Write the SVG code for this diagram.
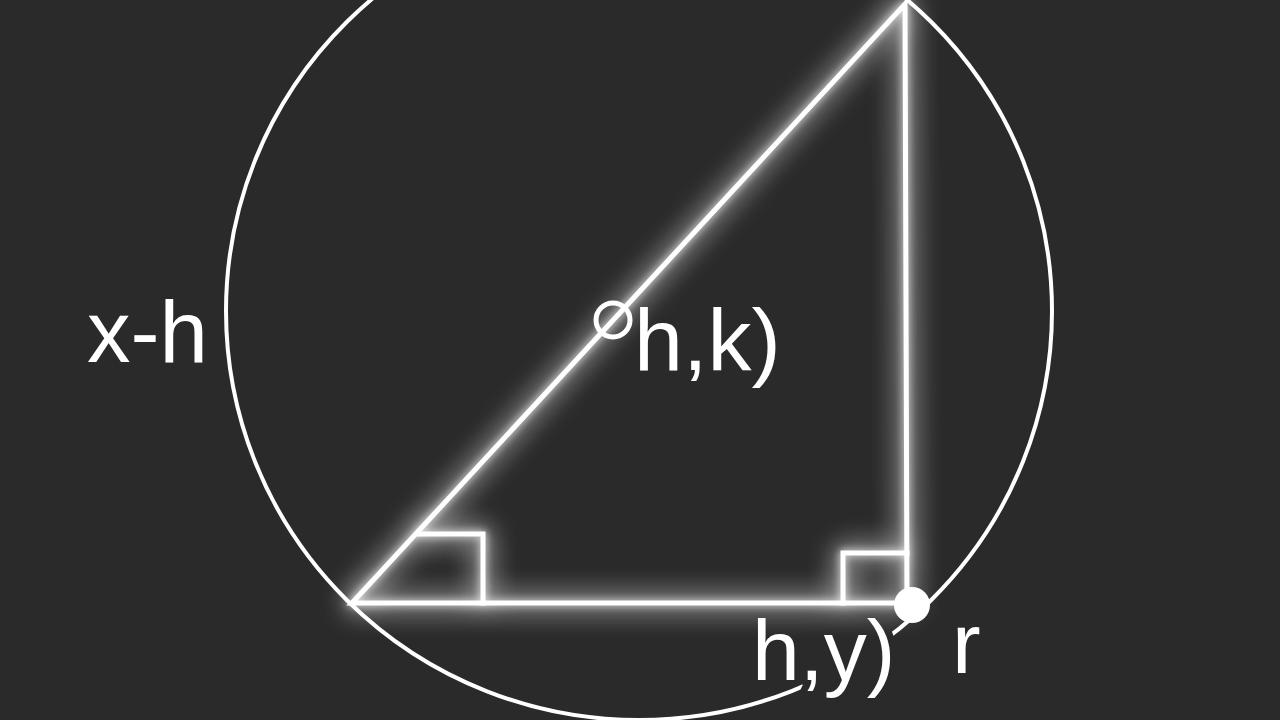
<svg xmlns="http://www.w3.org/2000/svg" width="1280" height="720" viewBox="0 0 1280 720">
  <defs>
    <filter id="glow" x="-20%" y="-20%" width="140%" height="140%">
      <feGaussianBlur in="SourceGraphic" stdDeviation="4" result="b1"/>
      <feGaussianBlur in="SourceGraphic" stdDeviation="14" result="b2"/>
      <feMerge>
        <feMergeNode in="b2"/>
        <feMergeNode in="b2"/>
        <feMergeNode in="b1"/>
        <feMergeNode in="SourceGraphic"/>
      </feMerge>
    </filter>
    <mask id="textGap" maskUnits="userSpaceOnUse" x="0" y="0" width="1280" height="720">
      <rect x="0" y="0" width="1280" height="720" fill="#ffffff"/>
      <rect x="814" y="610" width="78" height="100" fill="#000000"/>
      <text x="752" y="680" font-size="86" font-family="Liberation Sans, Arial, sans-serif" fill="#000000" stroke="#000000" stroke-width="14" stroke-linejoin="round">h,y)</text>
    </mask>
  </defs>
  <style>
    .line { fill: none; stroke: #ffffff; stroke-width: 5; stroke-linejoin: miter; stroke-linecap: square; }
    .circ { fill: none; stroke: #ffffff; stroke-width: 4; }
    .lbl { font-family: "Liberation Sans", Arial, sans-serif; fill: #ffffff; }
  </style>
  <rect x="0" y="0" width="1280" height="720" fill="#2a2a2a"/>

  <g id="big-circle" mask="url(#textGap)">
    <ellipse class="circ" cx="639" cy="311" rx="413" ry="409"/>
  </g>

  <g id="triangle" filter="url(#glow)">
    <polygon class="line" points="352,603 905,4 907,603"/>
    <polyline class="line" points="418,534 483,534 483,603"/>
    <polyline class="line" points="843,603 843,553 907,553"/>
  </g>

  <g id="center-point">
    <circle cx="613" cy="320" r="17" fill="none" stroke="#ffffff" stroke-width="5"/>
  </g>

  <g id="labels">
    <text class="lbl" x="87" y="362" font-size="87">x-h</text>
    <text class="lbl" x="634" y="370" font-size="88">h,k)</text>
    <text class="lbl" x="752" y="680" font-size="86">h,y)</text>
    <text class="lbl" x="952" y="673" font-size="86">r</text>
  </g>

  <g id="point-dot">
    <circle cx="912" cy="605" r="18" fill="#ffffff"/>
  </g>
</svg>
